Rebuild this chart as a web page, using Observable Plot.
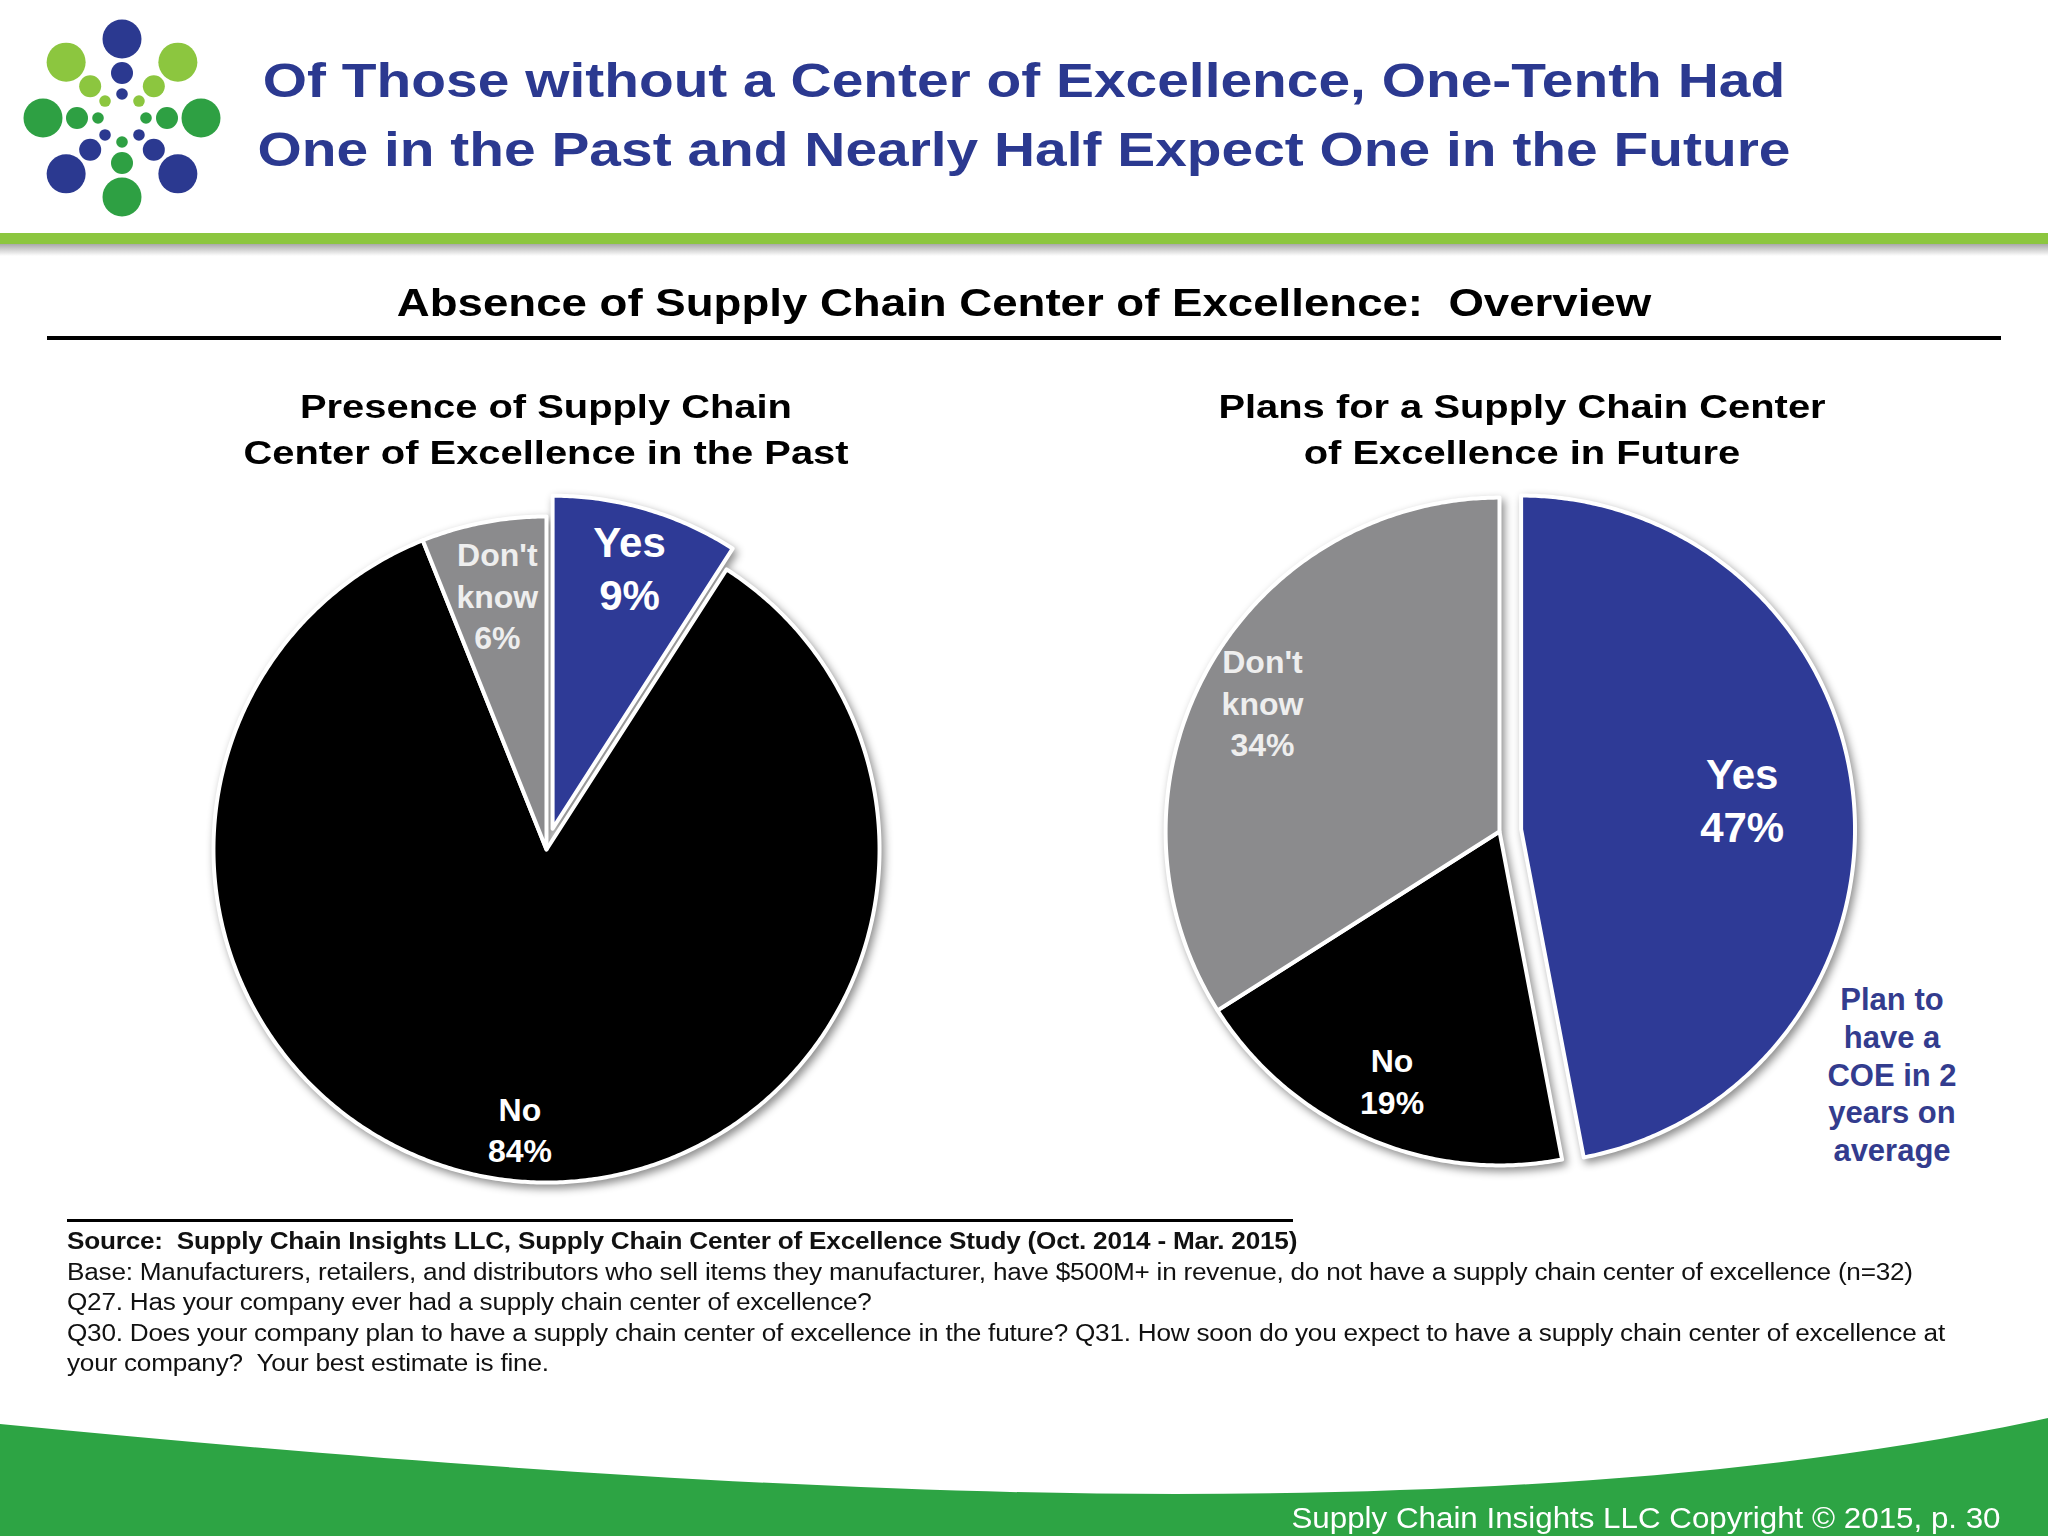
<!DOCTYPE html>
<html>
<head>
<meta charset="utf-8">
<script src="https://cdn.jsdelivr.net/npm/d3@7"></script>
<script src="https://cdn.jsdelivr.net/npm/@observablehq/plot@0.6"></script>
<style>
  body { margin: 0; background: #fff; font-family: "Liberation Sans", Arial, sans-serif; }
  #page { position: relative; width: 2048px; height: 1536px; overflow: hidden; background: #fff; }
  .abs { position: absolute; }
  #title { left: 0; width: 2048px; top: 46px; text-align: center; font-weight: bold; font-size: 48px; line-height: 69px; color: #2b3990; transform: scaleX(1.185); }
  #greenbar { left: 0; top: 233px; width: 2048px; height: 11px; background: #8cc63f; }
  #greenshadow { left: 0; top: 244px; width: 2048px; height: 12px; background: linear-gradient(#a9a9a9, rgba(255,255,255,0)); }
  #charttitle { left: 0; width: 2048px; top: 280px; text-align: center; font-weight: bold; font-size: 38px; line-height: 46px; color: #000; transform: scaleX(1.2); }
  #rule { left: 47px; top: 336px; width: 1954px; height: 4px; background: #000; }
  .sub { width: 800px; text-align: center; font-weight: bold; font-size: 34px; line-height: 46px; color: #000; top: 383px; transform: scaleX(1.173); }
  #note { left: 1792px; top: 981px; width: 200px; text-align: center; font-weight: bold; font-size: 31px; line-height: 37.8px; color: #333c8e; }
  #srcrule { left: 67px; top: 1219px; width: 1226px; height: 3px; background: #000; }
  #source { left: 67px; top: 1226px; font-size: 23px; line-height: 30.5px; color: #111; white-space: nowrap; letter-spacing: -0.2px; transform: scaleX(1.137); transform-origin: 0 0; }
  #source b { font-weight: bold; }
  #copy { right: 47px; top: 1501px; font-size: 29px; line-height: 34px; color: #fff; white-space: nowrap; transform: scaleX(1.08); transform-origin: 100% 0; }
</style>
</head>
<body>
<div id="page">
  <svg id="logo" class="abs" style="left:0;top:0" width="250" height="240"></svg>
  <div id="title" class="abs">Of Those without a Center of Excellence, One-Tenth Had<br>One in the Past and Nearly Half Expect One in the Future</div>
  <div id="greenbar" class="abs"></div>
  <div id="greenshadow" class="abs"></div>
  <div id="charttitle" class="abs">Absence of Supply Chain Center of Excellence:&nbsp; Overview</div>
  <div id="rule" class="abs"></div>
  <div class="abs sub" style="left:146px">Presence of Supply Chain<br>Center of Excellence in the Past</div>
  <div class="abs sub" style="left:1122px">Plans for a Supply Chain Center<br>of Excellence in Future</div>
  <div id="pastPie" class="abs"></div>
  <div id="futurePie" class="abs"></div>
  <div id="note" class="abs">Plan to<br>have a<br>COE in 2<br>years on<br>average</div>
  <div id="srcrule" class="abs"></div>
  <div id="source" class="abs"><b>Source:&nbsp; Supply Chain Insights LLC, Supply Chain Center of Excellence Study (Oct. 2014 - Mar. 2015)</b><br>Base: Manufacturers, retailers, and distributors who sell items they manufacturer, have $500M+ in revenue, do not have a supply chain center of excellence (n=32)<br>Q27. Has your company ever had a supply chain center of excellence?<br>Q30. Does your company plan to have a supply chain center of excellence in the future? Q31. How soon do you expect to have a supply chain center of excellence at<br>your company?&nbsp; Your best estimate is fine.</div>
  <svg id="footer" class="abs" style="left:0;top:0" width="2048" height="1536"></svg>
  <div id="copy" class="abs">Supply Chain Insights LLC Copyright © 2015, p. 30</div>
</div>
<script>
// ---- Data ----
const categories = ["Yes", "No", "Don't know"];
const pastValues = [9, 84, 6];      // Q27: ever had a COE (%)
const futureValues = [47, 19, 34];  // Q30: plan to have a COE (%)
const sliceColors = ["#2e3a96", "#000000", "#8b8b8d"];
const explodedCategory = "Yes";

// ---- Layout (label placement, in radius units) ----
const pastLabelLayout = {"Yes": {r: 0.82, dy: 0}, "No": {r: 0.84, dy: 0}, "Don't know": {r: 0.78, dy: 0}};
const futureLabelLayout = {"Yes": {r: 0.665, dy: -10}, "No": {r: 0.81, dy: 0}, "Don't know": {r: 0.81, dy: 0}};

// ---- Pie drawn with Plot (unit-circle coordinates through Plot's x/y scales) ----
function drawPie(el, values, layout, cx, cy, R) {
  const H = 1.15;
  const size = Math.round(2 * H * R);
  const total = d3.sum(values);
  let acc = 0;
  const slices = categories.map((c, i) => {
    const a0 = acc / total * 2 * Math.PI;
    acc += values[i];
    const a1 = acc / total * 2 * Math.PI;
    return {category: c, value: values[i], a0, a1};
  });
  const polys = [], labels = [];
  for (const s of slices) {
    const off = s.category === explodedCategory ? 0.065 : 0;
    const am = (s.a0 + s.a1) / 2;
    const ox = off * Math.sin(am), oy = off * Math.cos(am);
    polys.push({category: s.category, x: ox, y: oy});
    const n = Math.max(2, Math.ceil((s.a1 - s.a0) / (Math.PI / 360)));
    for (let k = 0; k <= n; k++) {
      const a = s.a0 + (s.a1 - s.a0) * k / n;
      polys.push({category: s.category, x: ox + Math.sin(a), y: oy + Math.cos(a)});
    }
    const lr = layout[s.category].r;
    const name = s.category === "Don't know" ? "Don't\nknow" : s.category;
    labels.push({category: s.category, text: `${name}\n${s.value}%`, dy: layout[s.category].dy,
      x: ox + lr * Math.sin(am), y: oy + lr * Math.cos(am), big: s.category === "Yes"});
  }
  const font = "Liberation Sans, Arial, sans-serif";
  const chart = Plot.plot({
    width: size, height: size, margin: 0,
    x: {domain: [-H, H], axis: null},
    y: {domain: [-H, H], axis: null},
    color: {domain: categories, range: sliceColors},
    style: {background: "transparent", overflow: "visible"},
    marks: [
      Plot.line(polys, {x: "x", y: "y", z: "category", fill: "category", stroke: "white",
        strokeWidth: 4, strokeLinejoin: "round", curve: "linear-closed"}),
      ...labels.map(d => Plot.text([d], {x: "x", y: "y", text: "text", dy: d.dy,
        fill: d.category === "Don't know" ? "#eeeeee" : "white",
        fontSize: d.big ? 42 : 32, fontWeight: "bold", lineHeight: d.big ? 1.25 : 1.3, fontFamily: font}))
    ]
  });
  const g = chart.querySelector('g[aria-label="line"]');
  if (g) g.style.filter = "drop-shadow(3px 4px 4px rgba(0,0,0,0.45))";
  el.style.left = (cx - size / 2) + "px";
  el.style.top = (cy - size / 2) + "px";
  el.appendChild(chart);
}
drawPie(document.getElementById("pastPie"), pastValues, pastLabelLayout, 546, 849, 333);
drawPie(document.getElementById("futurePie"), futureValues, futureLabelLayout, 1499, 831, 334);

// ---- Logo (decoration) ----
(function () {
  const svg = d3.select("#logo");
  const c = [122, 118];
  const dirColors = ["#2b3990", "#8cc63f", "#2ea043", "#2b3990", "#2ea043", "#2b3990", "#2ea043", "#8cc63f"];
  const rings = [[24, 5.8], [45, 11], [79, 19.5]];
  dirColors.forEach((col, i) => {
    const a = i * Math.PI / 4;
    rings.forEach(([d, r]) => {
      svg.append("circle").attr("cx", c[0] + d * Math.sin(a)).attr("cy", c[1] - d * Math.cos(a))
        .attr("r", r).attr("fill", col);
    });
  });
})();

// ---- Footer wave ----
d3.select("#footer").append("path")
  .attr("d", "M0,1424 C450,1468 850,1494 1175,1494 C1500,1494 1800,1472 2048,1418 L2048,1536 L0,1536 Z")
  .attr("fill", "#2da444");
</script>
</body>
</html>
